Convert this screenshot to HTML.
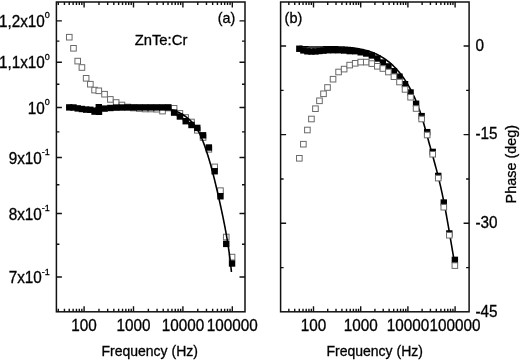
<!DOCTYPE html><html><head><meta charset="utf-8"><style>html,body{margin:0;padding:0;background:#fff;}svg{display:block;}</style></head><body><svg width="520" height="360" viewBox="0 0 520 360" font-family="'Liberation Sans', sans-serif">
<rect width="520" height="360" fill="#fff"/>
<g fill="#fff" stroke="#6a6a6a" stroke-width="1.0"><rect x="66.48" y="34.40" width="5.60" height="5.60"/><rect x="70.69" y="45.50" width="5.60" height="5.60"/><rect x="74.91" y="58.30" width="5.60" height="5.60"/><rect x="79.12" y="64.70" width="5.60" height="5.60"/><rect x="83.34" y="75.50" width="5.60" height="5.60"/><rect x="87.55" y="81.40" width="5.60" height="5.60"/><rect x="91.76" y="87.30" width="5.60" height="5.60"/><rect x="95.98" y="88.00" width="5.60" height="5.60"/><rect x="101.77" y="91.40" width="5.60" height="5.60"/><rect x="107.56" y="96.60" width="5.60" height="5.60"/><rect x="113.36" y="99.70" width="5.60" height="5.60"/><rect x="119.15" y="102.20" width="5.60" height="5.60"/><rect x="124.94" y="104.20" width="5.60" height="5.60"/><rect x="130.74" y="105.20" width="5.60" height="5.60"/><rect x="136.53" y="105.70" width="5.60" height="5.60"/><rect x="142.33" y="106.20" width="5.60" height="5.60"/><rect x="148.12" y="106.20" width="5.60" height="5.60"/><rect x="153.92" y="106.40" width="5.60" height="5.60"/><rect x="159.71" y="108.30" width="5.60" height="5.60"/><rect x="165.51" y="105.20" width="5.60" height="5.60"/><rect x="171.30" y="105.50" width="5.60" height="5.60"/><rect x="177.10" y="110.60" width="5.60" height="5.60"/><rect x="182.89" y="114.70" width="5.60" height="5.60"/><rect x="188.69" y="119.20" width="5.60" height="5.60"/><rect x="194.48" y="127.50" width="5.60" height="5.60"/><rect x="200.27" y="134.70" width="5.60" height="5.60"/><rect x="206.07" y="146.50" width="5.60" height="5.60"/><rect x="211.86" y="164.10" width="5.60" height="5.60"/><rect x="217.66" y="187.85" width="5.60" height="5.60"/><rect x="223.45" y="234.20" width="5.60" height="5.60"/><rect x="229.25" y="254.30" width="5.60" height="5.60"/></g>
<g fill="#000"><rect x="66.08" y="104.20" width="6.4" height="6.4"/><rect x="70.29" y="104.30" width="6.4" height="6.4"/><rect x="74.51" y="105.20" width="6.4" height="6.4"/><rect x="78.72" y="105.80" width="6.4" height="6.4"/><rect x="82.94" y="106.40" width="6.4" height="6.4"/><rect x="87.15" y="106.60" width="6.4" height="6.4"/><rect x="91.36" y="108.40" width="6.4" height="6.4"/><rect x="95.58" y="104.00" width="6.4" height="6.4"/><rect x="101.37" y="105.40" width="6.4" height="6.4"/><rect x="107.16" y="104.80" width="6.4" height="6.4"/><rect x="112.96" y="104.40" width="6.4" height="6.4"/><rect x="118.75" y="104.30" width="6.4" height="6.4"/><rect x="124.54" y="104.20" width="6.4" height="6.4"/><rect x="130.34" y="104.20" width="6.4" height="6.4"/><rect x="136.13" y="104.20" width="6.4" height="6.4"/><rect x="141.93" y="104.20" width="6.4" height="6.4"/><rect x="147.72" y="104.20" width="6.4" height="6.4"/><rect x="153.52" y="104.20" width="6.4" height="6.4"/><rect x="159.31" y="104.20" width="6.4" height="6.4"/><rect x="165.11" y="104.20" width="6.4" height="6.4"/><rect x="170.90" y="109.40" width="6.4" height="6.4"/><rect x="176.70" y="113.30" width="6.4" height="6.4"/><rect x="182.49" y="118.00" width="6.4" height="6.4"/><rect x="188.29" y="121.80" width="6.4" height="6.4"/><rect x="194.08" y="124.70" width="6.4" height="6.4"/><rect x="199.87" y="132.10" width="6.4" height="6.4"/><rect x="205.67" y="144.30" width="6.4" height="6.4"/><rect x="211.46" y="168.05" width="6.4" height="6.4"/><rect x="217.26" y="193.05" width="6.4" height="6.4"/><rect x="223.05" y="240.70" width="6.4" height="6.4"/><rect x="228.85" y="260.30" width="6.4" height="6.4"/><rect x="95.80" y="108.60" width="6.4" height="6.4"/></g>
<polyline fill="none" stroke="#000" stroke-width="1.6" points="66.04,107.25 66.76,107.32 67.48,107.39 68.19,107.45 68.91,107.51 69.63,107.57 70.35,107.62 71.06,107.68 71.78,107.72 72.49,107.77 73.21,107.82 73.93,107.86 74.64,107.90 75.36,107.94 76.07,107.97 76.79,108.00 77.50,108.03 78.22,108.06 78.93,108.09 79.65,108.11 80.36,108.13 81.07,108.15 81.79,108.17 82.50,108.18 83.22,108.20 83.93,108.21 84.64,108.22 85.36,108.22 86.07,108.23 86.79,108.23 87.50,108.24 88.21,108.24 88.93,108.24 89.64,108.23 90.35,108.23 91.07,108.22 91.78,108.22 92.49,108.21 93.21,108.20 93.92,108.19 94.63,108.18 95.35,108.16 96.06,108.15 96.77,108.13 97.49,108.12 98.20,108.10 98.91,108.08 99.63,108.06 100.34,108.04 101.06,108.02 101.77,108.00 102.48,107.97 103.20,107.95 103.91,107.92 104.63,107.90 105.34,107.87 106.05,107.85 106.77,107.82 107.48,107.79 108.20,107.77 108.91,107.74 109.63,107.71 110.34,107.68 111.06,107.65 111.78,107.62 112.49,107.59 113.21,107.56 113.92,107.54 114.64,107.51 115.36,107.48 116.07,107.45 116.79,107.42 117.51,107.39 118.22,107.36 118.94,107.33 119.66,107.30 120.38,107.27 121.10,107.25 121.82,107.22 122.53,107.19 123.25,107.17 123.97,107.14 124.69,107.11 125.41,107.09 126.13,107.07 126.85,107.04 127.57,107.02 128.30,107.00 129.02,106.98 129.74,106.96 130.46,106.94 131.18,106.92 131.91,106.90 132.63,106.89 133.35,106.87 134.08,106.86 134.80,106.85 135.53,106.84 136.25,106.83 136.98,106.82 137.70,106.81 138.43,106.80 139.16,106.80 139.88,106.80 140.61,106.79 141.34,106.79 142.07,106.80 142.80,106.80 143.53,106.81 144.26,106.81 144.99,106.82 145.72,106.83 146.45,106.84 147.18,106.86 147.91,106.88 148.65,106.89 149.38,106.91 150.11,106.94 150.85,106.96 151.58,106.99 152.32,107.02 153.05,107.05 153.79,107.09 154.52,107.13 155.25,107.17 155.99,107.22 156.72,107.27 157.45,107.32 158.18,107.38 158.91,107.45 159.64,107.52 160.37,107.59 161.09,107.67 161.82,107.76 162.54,107.85 163.26,107.95 163.97,108.06 164.69,108.17 165.40,108.29 166.11,108.42 166.82,108.55 167.52,108.70 168.22,108.85 168.91,109.01 169.61,109.17 170.30,109.35 170.98,109.54 171.66,109.73 172.34,109.93 173.01,110.15 173.68,110.37 174.34,110.61 175.00,110.85 175.66,111.10 176.31,111.36 176.95,111.63 177.59,111.92 178.23,112.21 178.85,112.51 179.48,112.81 180.10,113.13 180.71,113.46 181.32,113.80 181.92,114.14 182.51,114.50 183.10,114.86 183.68,115.23 184.26,115.62 184.83,116.01 185.39,116.41 185.95,116.81 186.50,117.23 187.05,117.66 187.58,118.09 188.11,118.53 188.64,118.98 189.15,119.44 189.66,119.91 190.16,120.39 190.65,120.87 191.14,121.37 191.62,121.87 192.09,122.38 192.55,122.90 193.01,123.42 193.45,123.96 193.89,124.50 194.32,125.05 194.74,125.61 195.15,126.18 195.56,126.75 195.95,127.33 196.34,127.92 196.72,128.51 197.10,129.12 197.46,129.72 197.82,130.34 198.18,130.96 198.52,131.58 198.86,132.21 199.20,132.85 199.52,133.49 199.85,134.14 200.16,134.79 200.47,135.44 200.78,136.10 201.08,136.76 201.37,137.43 201.66,138.10 201.95,138.77 202.23,139.45 202.50,140.13 202.78,140.81 203.04,141.49 203.31,142.18 203.57,142.87 203.83,143.56 204.08,144.25 204.33,144.94 204.58,145.63 204.83,146.32 205.07,147.02 205.31,147.71 205.55,148.40 205.79,149.10 206.02,149.79 206.26,150.49 206.49,151.18 206.72,151.87 206.94,152.57 207.17,153.26 207.39,153.96 207.61,154.65 207.83,155.35 208.05,156.04 208.26,156.74 208.48,157.44 208.69,158.13 208.90,158.83 209.11,159.52 209.31,160.22 209.52,160.91 209.72,161.61 209.92,162.31 210.12,163.00 210.32,163.70 210.52,164.40 210.71,165.09 210.91,165.79 211.10,166.48 211.29,167.18 211.48,167.88 211.67,168.58 211.86,169.27 212.04,169.97 212.23,170.67 212.41,171.36 212.59,172.06 212.78,172.76 212.96,173.45 213.13,174.15 213.31,174.85 213.49,175.55 213.67,176.24 213.84,176.94 214.02,177.64 214.19,178.34 214.36,179.03 214.53,179.73 214.70,180.43 214.87,181.13 215.04,181.82 215.21,182.52 215.38,183.22 215.54,183.92 215.71,184.61 215.88,185.31 216.04,186.01 216.21,186.71 216.37,187.40 216.53,188.10 216.70,188.80 216.86,189.50 217.02,190.19 217.18,190.89 217.35,191.59 217.51,192.29 217.67,192.98 217.83,193.68 217.99,194.38 218.15,195.08 218.31,195.77 218.47,196.47 218.63,197.17 218.79,197.86 218.94,198.56 219.10,199.26 219.26,199.96 219.42,200.65 219.57,201.35 219.73,202.05 219.88,202.75 220.04,203.44 220.19,204.14 220.35,204.84 220.50,205.54 220.65,206.23 220.81,206.93 220.96,207.63 221.11,208.33 221.26,209.03 221.41,209.72 221.56,210.42 221.71,211.12 221.86,211.82 222.01,212.52 222.15,213.22 222.30,213.92 222.45,214.61 222.59,215.31 222.74,216.01 222.88,216.71 223.02,217.41 223.17,218.11 223.31,218.81 223.45,219.51 223.59,220.21 223.73,220.91 223.87,221.61 224.01,222.31 224.15,223.01 224.29,223.71 224.42,224.41 224.56,225.12 224.70,225.82 224.83,226.52 224.96,227.22 225.10,227.92 225.23,228.62 225.36,229.33 225.49,230.03 225.62,230.73 225.75,231.44 225.88,232.14 226.00,232.84 226.13,233.55 226.26,234.25 226.38,234.96 226.50,235.66 226.63,236.37 226.75,237.07 226.87,237.78 226.99,238.48 227.11,239.19 227.23,239.89 227.34,240.60 227.46,241.31 227.58,242.01 227.69,242.72 227.80,243.43 227.92,244.14 228.03,244.85 228.14,245.56 228.25,246.26 228.35,246.97 228.46,247.68 228.57,248.39 228.67,249.10 228.78,249.82 228.88,250.53 228.98,251.24 229.08,251.95 229.18,252.66 229.28,253.38 229.38,254.09 229.47,254.80 229.57,255.52 229.66,256.23 229.76,256.95 229.85,257.66 229.94,258.38 230.03,259.09 230.12,259.81 230.20,260.52 230.29,261.24 230.37,261.96 230.46,262.68 230.54,263.40 230.62,264.12 230.70,264.83 230.78,265.55 230.85,266.27 230.93,267.00 231.00,267.72 231.08,268.44 231.15,269.16 231.22,269.88 231.29,270.61 231.36,271.33 231.42,272.05"/>
<g fill="#000"><rect x="296.14" y="45.55" width="6.4" height="6.4"/><rect x="300.17" y="47.20" width="6.4" height="6.4"/><rect x="304.19" y="48.10" width="6.4" height="6.4"/><rect x="308.22" y="48.30" width="6.4" height="6.4"/><rect x="312.24" y="48.20" width="6.4" height="6.4"/><rect x="316.27" y="47.80" width="6.4" height="6.4"/><rect x="320.30" y="47.40" width="6.4" height="6.4"/><rect x="324.32" y="47.00" width="6.4" height="6.4"/><rect x="329.85" y="47.00" width="6.4" height="6.4"/><rect x="335.39" y="47.00" width="6.4" height="6.4"/><rect x="340.93" y="47.30" width="6.4" height="6.4"/><rect x="346.46" y="47.90" width="6.4" height="6.4"/><rect x="352.00" y="48.00" width="6.4" height="6.4"/><rect x="357.54" y="49.10" width="6.4" height="6.4"/><rect x="363.07" y="50.30" width="6.4" height="6.4"/><rect x="368.61" y="52.30" width="6.4" height="6.4"/><rect x="374.15" y="55.30" width="6.4" height="6.4"/><rect x="379.68" y="59.30" width="6.4" height="6.4"/><rect x="385.22" y="63.20" width="6.4" height="6.4"/><rect x="390.76" y="68.00" width="6.4" height="6.4"/><rect x="396.29" y="73.50" width="6.4" height="6.4"/><rect x="401.83" y="81.00" width="6.4" height="6.4"/><rect x="407.37" y="89.30" width="6.4" height="6.4"/><rect x="412.90" y="100.55" width="6.4" height="6.4"/><rect x="418.44" y="112.90" width="6.4" height="6.4"/><rect x="423.98" y="128.95" width="6.4" height="6.4"/><rect x="429.51" y="148.70" width="6.4" height="6.4"/><rect x="435.05" y="172.70" width="6.4" height="6.4"/><rect x="440.59" y="199.35" width="6.4" height="6.4"/><rect x="446.12" y="230.25" width="6.4" height="6.4"/><rect x="451.66" y="256.65" width="6.4" height="6.4"/></g>
<polyline fill="none" stroke="#000" stroke-width="1.6" points="299.14,46.43 299.88,46.49 300.62,46.55 301.37,46.60 302.11,46.65 302.86,46.69 303.61,46.73 304.36,46.77 305.11,46.81 305.86,46.84 306.61,46.86 307.36,46.89 308.12,46.91 308.87,46.93 309.63,46.94 310.38,46.96 311.14,46.97 311.90,46.97 312.66,46.98 313.42,46.98 314.18,46.99 314.95,46.99 315.71,46.99 316.47,46.98 317.24,46.98 318.00,46.97 318.77,46.97 319.54,46.96 320.30,46.95 321.07,46.95 321.84,46.94 322.61,46.93 323.38,46.92 324.15,46.91 324.92,46.90 325.70,46.89 326.47,46.88 327.24,46.88 328.02,46.87 328.79,46.86 329.57,46.86 330.34,46.86 331.12,46.85 331.89,46.85 332.67,46.85 333.45,46.86 334.22,46.86 335.00,46.87 335.78,46.88 336.56,46.89 337.34,46.90 338.12,46.92 338.89,46.93 339.67,46.96 340.45,46.98 341.23,47.01 342.01,47.04 342.79,47.07 343.57,47.11 344.35,47.15 345.13,47.20 345.92,47.25 346.70,47.31 347.48,47.36 348.26,47.43 349.04,47.49 349.82,47.57 350.60,47.64 351.38,47.73 352.16,47.81 352.94,47.91 353.72,48.01 354.50,48.11 355.28,48.22 356.06,48.34 356.83,48.46 357.61,48.58 358.38,48.72 359.16,48.86 359.93,49.00 360.70,49.16 361.47,49.32 362.23,49.48 363.00,49.65 363.76,49.83 364.52,50.02 365.27,50.21 366.02,50.41 366.77,50.62 367.52,50.83 368.26,51.06 369.00,51.29 369.74,51.52 370.47,51.77 371.19,52.02 371.92,52.28 372.63,52.55 373.35,52.83 374.06,53.12 374.76,53.41 375.46,53.71 376.15,54.03 376.84,54.35 377.52,54.67 378.20,55.01 378.87,55.36 379.54,55.71 380.20,56.07 380.85,56.45 381.50,56.82 382.14,57.21 382.78,57.61 383.42,58.01 384.04,58.42 384.67,58.84 385.28,59.26 385.90,59.70 386.50,60.14 387.11,60.58 387.70,61.04 388.29,61.50 388.88,61.97 389.46,62.45 390.04,62.93 390.61,63.42 391.17,63.91 391.73,64.42 392.29,64.92 392.84,65.44 393.38,65.96 393.93,66.49 394.46,67.02 394.99,67.56 395.52,68.11 396.04,68.66 396.55,69.21 397.06,69.78 397.57,70.34 398.07,70.92 398.57,71.49 399.06,72.08 399.55,72.67 400.03,73.26 400.50,73.86 400.98,74.46 401.44,75.07 401.91,75.68 402.37,76.30 402.82,76.92 403.27,77.55 403.71,78.18 404.15,78.81 404.59,79.45 405.02,80.09 405.44,80.74 405.87,81.39 406.28,82.04 406.70,82.70 407.10,83.36 407.51,84.02 407.91,84.69 408.30,85.36 408.69,86.04 409.08,86.71 409.46,87.39 409.84,88.07 410.21,88.76 410.58,89.45 410.94,90.14 411.31,90.83 411.66,91.53 412.01,92.22 412.36,92.92 412.70,93.62 413.04,94.33 413.38,95.03 413.71,95.74 414.04,96.45 414.36,97.16 414.68,97.87 414.99,98.59 415.30,99.30 415.61,100.02 415.91,100.73 416.21,101.45 416.51,102.17 416.80,102.89 417.08,103.61 417.37,104.33 417.65,105.05 417.92,105.78 418.19,106.50 418.46,107.22 418.73,107.95 418.99,108.67 419.25,109.40 419.50,110.13 419.76,110.85 420.01,111.58 420.25,112.31 420.50,113.04 420.74,113.76 420.97,114.49 421.21,115.22 421.44,115.95 421.67,116.68 421.90,117.42 422.13,118.15 422.35,118.88 422.58,119.61 422.80,120.34 423.02,121.08 423.23,121.81 423.45,122.55 423.66,123.28 423.87,124.01 424.09,124.75 424.29,125.48 424.50,126.22 424.71,126.96 424.92,127.69 425.12,128.43 425.33,129.16 425.53,129.90 425.74,130.64 425.94,131.38 426.14,132.11 426.34,132.85 426.55,133.59 426.75,134.33 426.95,135.07 427.15,135.80 427.35,136.54 427.55,137.28 427.76,138.02 427.96,138.76 428.16,139.50 428.37,140.24 428.57,140.98 428.77,141.71 428.98,142.45 429.18,143.19 429.39,143.93 429.59,144.67 429.80,145.41 430.01,146.15 430.21,146.89 430.42,147.63 430.63,148.37 430.83,149.11 431.04,149.85 431.24,150.59 431.45,151.33 431.66,152.07 431.86,152.81 432.07,153.56 432.28,154.30 432.48,155.04 432.69,155.78 432.89,156.52 433.10,157.26 433.30,158.00 433.51,158.75 433.71,159.49 433.91,160.23 434.12,160.97 434.32,161.72 434.52,162.46 434.73,163.20 434.93,163.95 435.13,164.69 435.33,165.43 435.53,166.18 435.73,166.92 435.92,167.67 436.12,168.41 436.32,169.16 436.51,169.90 436.71,170.65 436.90,171.39 437.10,172.14 437.29,172.88 437.48,173.63 437.67,174.37 437.86,175.12 438.05,175.87 438.23,176.62 438.42,177.36 438.60,178.11 438.79,178.86 438.97,179.61 439.15,180.35 439.33,181.10 439.51,181.85 439.69,182.60 439.86,183.35 440.04,184.10 440.21,184.85 440.39,185.60 440.56,186.35 440.73,187.10 440.90,187.85 441.07,188.60 441.23,189.35 441.40,190.10 441.56,190.86 441.73,191.61 441.89,192.36 442.05,193.11 442.21,193.87 442.37,194.62 442.53,195.37 442.69,196.12 442.84,196.88 443.00,197.63 443.15,198.38 443.31,199.14 443.46,199.89 443.61,200.65 443.76,201.40 443.91,202.16 444.06,202.91 444.21,203.67 444.36,204.42 444.51,205.18 444.65,205.93 444.80,206.69 444.94,207.44 445.09,208.20 445.23,208.95 445.38,209.71 445.52,210.47 445.66,211.22 445.80,211.98 445.94,212.74 446.08,213.49 446.22,214.25 446.36,215.01 446.49,215.76 446.63,216.52 446.77,217.28 446.90,218.04 447.04,218.79 447.17,219.55 447.31,220.31 447.44,221.07 447.57,221.82 447.71,222.58 447.84,223.34 447.97,224.10 448.10,224.86 448.24,225.61 448.37,226.37 448.50,227.13 448.63,227.89 448.76,228.65 448.89,229.40 449.02,230.16 449.15,230.92 449.27,231.68 449.40,232.44 449.53,233.20 449.66,233.96 449.79,234.71 449.92,235.47 450.04,236.23 450.17,236.99 450.30,237.75 450.42,238.51 450.55,239.27 450.68,240.03 450.81,240.78 450.93,241.54 451.06,242.30 451.19,243.06 451.31,243.82 451.44,244.58 451.57,245.34 451.69,246.09 451.82,246.85 451.95,247.61 452.07,248.37 452.20,249.13 452.33,249.89 452.45,250.65 452.58,251.40 452.71,252.16 452.84,252.92 452.96,253.68 453.09,254.44 453.22,255.19 453.35,255.95 453.48,256.71 453.61,257.47 453.74,258.23 453.86,258.98 453.99,259.74 454.12,260.50 454.25,261.26 454.39,262.01"/>
<g fill="#fff" stroke="#6a6a6a" stroke-width="1.0"><rect x="296.54" y="155.50" width="5.60" height="5.60"/><rect x="300.57" y="141.40" width="5.60" height="5.60"/><rect x="304.59" y="127.20" width="5.60" height="5.60"/><rect x="308.62" y="116.20" width="5.60" height="5.60"/><rect x="312.64" y="105.90" width="5.60" height="5.60"/><rect x="316.67" y="98.00" width="5.60" height="5.60"/><rect x="320.70" y="91.00" width="5.60" height="5.60"/><rect x="324.72" y="84.70" width="5.60" height="5.60"/><rect x="330.25" y="76.40" width="5.60" height="5.60"/><rect x="335.79" y="69.20" width="5.60" height="5.60"/><rect x="341.33" y="66.30" width="5.60" height="5.60"/><rect x="346.86" y="62.30" width="5.60" height="5.60"/><rect x="352.40" y="60.50" width="5.60" height="5.60"/><rect x="357.94" y="59.30" width="5.60" height="5.60"/><rect x="363.47" y="59.30" width="5.60" height="5.60"/><rect x="369.01" y="60.80" width="5.60" height="5.60"/><rect x="374.55" y="63.50" width="5.60" height="5.60"/><rect x="380.08" y="65.70" width="5.60" height="5.60"/><rect x="385.62" y="69.20" width="5.60" height="5.60"/><rect x="391.16" y="73.90" width="5.60" height="5.60"/><rect x="396.69" y="79.20" width="5.60" height="5.60"/><rect x="402.23" y="86.60" width="5.60" height="5.60"/><rect x="407.77" y="94.40" width="5.60" height="5.60"/><rect x="413.30" y="105.70" width="5.60" height="5.60"/><rect x="418.84" y="116.20" width="5.60" height="5.60"/><rect x="424.38" y="132.20" width="5.60" height="5.60"/><rect x="429.91" y="151.45" width="5.60" height="5.60"/><rect x="435.45" y="175.30" width="5.60" height="5.60"/><rect x="440.99" y="204.40" width="5.60" height="5.60"/><rect x="446.52" y="232.40" width="5.60" height="5.60"/><rect x="452.06" y="262.80" width="5.60" height="5.60"/></g>
<g fill="none" stroke="#111" stroke-width="1.5"><rect x="56.4" y="2.0" width="188.60" height="309.80"/><rect x="280.6" y="2.0" width="188.50" height="309.80"/></g>
<path fill="none" stroke="#111" stroke-width="1.4" d="M58.27 311.80V308.80M58.27 2.00V5.00M64.44 311.80V308.80M64.44 2.00V5.00M69.23 311.80V308.80M69.23 2.00V5.00M73.14 311.80V308.80M73.14 2.00V5.00M76.45 311.80V308.80M76.45 2.00V5.00M79.31 311.80V308.80M79.31 2.00V5.00M81.84 311.80V308.80M81.84 2.00V5.00M84.10 311.80V306.30M84.10 2.00V7.50M98.97 311.80V308.80M98.97 2.00V5.00M107.67 311.80V308.80M107.67 2.00V5.00M113.84 311.80V308.80M113.84 2.00V5.00M118.63 311.80V308.80M118.63 2.00V5.00M122.54 311.80V308.80M122.54 2.00V5.00M125.85 311.80V308.80M125.85 2.00V5.00M128.71 311.80V308.80M128.71 2.00V5.00M131.24 311.80V308.80M131.24 2.00V5.00M133.50 311.80V306.30M133.50 2.00V7.50M148.37 311.80V308.80M148.37 2.00V5.00M157.07 311.80V308.80M157.07 2.00V5.00M163.24 311.80V308.80M163.24 2.00V5.00M168.03 311.80V308.80M168.03 2.00V5.00M171.94 311.80V308.80M171.94 2.00V5.00M175.25 311.80V308.80M175.25 2.00V5.00M178.11 311.80V308.80M178.11 2.00V5.00M180.64 311.80V308.80M180.64 2.00V5.00M182.90 311.80V306.30M182.90 2.00V7.50M197.77 311.80V308.80M197.77 2.00V5.00M206.47 311.80V308.80M206.47 2.00V5.00M212.64 311.80V308.80M212.64 2.00V5.00M217.43 311.80V308.80M217.43 2.00V5.00M221.34 311.80V308.80M221.34 2.00V5.00M224.65 311.80V308.80M224.65 2.00V5.00M227.51 311.80V308.80M227.51 2.00V5.00M230.04 311.80V308.80M230.04 2.00V5.00M232.30 311.80V306.30M232.30 2.00V7.50M288.82 311.80V308.80M288.82 2.00V5.00M294.72 311.80V308.80M294.72 2.00V5.00M299.29 311.80V308.80M299.29 2.00V5.00M303.03 311.80V308.80M303.03 2.00V5.00M306.19 311.80V308.80M306.19 2.00V5.00M308.93 311.80V308.80M308.93 2.00V5.00M311.34 311.80V308.80M311.34 2.00V5.00M313.50 311.80V306.30M313.50 2.00V7.50M327.71 311.80V308.80M327.71 2.00V5.00M336.02 311.80V308.80M336.02 2.00V5.00M341.92 311.80V308.80M341.92 2.00V5.00M346.49 311.80V308.80M346.49 2.00V5.00M350.23 311.80V308.80M350.23 2.00V5.00M353.39 311.80V308.80M353.39 2.00V5.00M356.13 311.80V308.80M356.13 2.00V5.00M358.54 311.80V308.80M358.54 2.00V5.00M360.70 311.80V306.30M360.70 2.00V7.50M374.91 311.80V308.80M374.91 2.00V5.00M383.22 311.80V308.80M383.22 2.00V5.00M389.12 311.80V308.80M389.12 2.00V5.00M393.69 311.80V308.80M393.69 2.00V5.00M397.43 311.80V308.80M397.43 2.00V5.00M400.59 311.80V308.80M400.59 2.00V5.00M403.33 311.80V308.80M403.33 2.00V5.00M405.74 311.80V308.80M405.74 2.00V5.00M407.90 311.80V306.30M407.90 2.00V7.50M422.11 311.80V308.80M422.11 2.00V5.00M430.42 311.80V308.80M430.42 2.00V5.00M436.32 311.80V308.80M436.32 2.00V5.00M440.89 311.80V308.80M440.89 2.00V5.00M444.63 311.80V308.80M444.63 2.00V5.00M447.79 311.80V308.80M447.79 2.00V5.00M450.53 311.80V308.80M450.53 2.00V5.00M452.94 311.80V308.80M452.94 2.00V5.00M455.10 311.80V306.30M455.10 2.00V7.50M56.40 276.96H61.90M245.00 276.96H239.50M56.40 244.18H59.40M245.00 244.18H242.00M56.40 213.52H61.90M245.00 213.52H239.50M56.40 184.72H59.40M245.00 184.72H242.00M56.40 157.56H61.90M245.00 157.56H239.50M56.40 131.87H59.40M245.00 131.87H242.00M56.40 107.50H61.90M245.00 107.50H239.50M56.40 84.32H59.40M245.00 84.32H242.00M56.40 62.22H61.90M245.00 62.22H239.50M56.40 41.10H59.40M245.00 41.10H242.00M56.40 20.88H61.90M245.00 20.88H239.50M280.60 46.00H286.10M469.10 46.00H463.60M280.60 90.33H283.60M469.10 90.33H466.10M280.60 134.65H286.10M469.10 134.65H463.60M280.60 178.97H283.60M469.10 178.97H466.10M280.60 223.30H286.10M469.10 223.30H463.60M280.60 267.62H283.60M469.10 267.62H466.10"/>
<g fill="#000" stroke="#000" stroke-width="0.3" font-size="15.3">
<text transform="translate(84.10 330.5) scale(1 1.04)" text-anchor="middle">100</text>
<text transform="translate(313.50 330.5) scale(1 1.04)" text-anchor="middle">100</text>
<text transform="translate(133.50 330.5) scale(1 1.04)" text-anchor="middle">1000</text>
<text transform="translate(360.70 330.5) scale(1 1.04)" text-anchor="middle">1000</text>
<text transform="translate(182.90 330.5) scale(1 1.04)" text-anchor="middle">10000</text>
<text transform="translate(407.90 330.5) scale(1 1.04)" text-anchor="middle">10000</text>
<text transform="translate(232.30 330.5) scale(1 1.04)" text-anchor="middle">100000</text>
<text transform="translate(455.10 330.5) scale(1 1.04)" text-anchor="middle">100000</text>
<text transform="translate(49.8 26.88) scale(1 1.04)" text-anchor="end" font-size="15.3">1,2x10<tspan font-size="9" dy="-8.1">0</tspan></text>
<text transform="translate(49.8 68.22) scale(1 1.04)" text-anchor="end" font-size="15.3">1,1x10<tspan font-size="9" dy="-8.1">0</tspan></text>
<text transform="translate(49.8 113.50) scale(1 1.04)" text-anchor="end" font-size="15.3">10<tspan font-size="9" dy="-8.1">0</tspan></text>
<text transform="translate(49.8 163.56) scale(1 1.04)" text-anchor="end" font-size="15.3">9x10<tspan font-size="9" dy="-8.1">-1</tspan></text>
<text transform="translate(49.8 219.52) scale(1 1.04)" text-anchor="end" font-size="15.3">8x10<tspan font-size="9" dy="-8.1">-1</tspan></text>
<text transform="translate(49.8 282.96) scale(1 1.04)" text-anchor="end" font-size="15.3">7x10<tspan font-size="9" dy="-8.1">-1</tspan></text>
<text transform="translate(475.5 50.60) scale(1 1.04)">0</text>
<text transform="translate(475.5 139.25) scale(1 1.04)">-15</text>
<text transform="translate(475.5 227.90) scale(1 1.04)">-30</text>
<text transform="translate(475.5 316.55) scale(1 1.04)">-45</text>
</g>
<g fill="#000" stroke="#000" stroke-width="0.3" font-size="14">
<text x="149.7" y="356" text-anchor="middle">Frequency (Hz)</text>
<text x="374.7" y="356" text-anchor="middle">Frequency (Hz)</text>
<text x="515.7" y="164.2" text-anchor="middle" font-size="14.4" transform="rotate(-90 515.7 164.2)">Phase (deg)</text>
<text x="134.7" y="45.0" font-size="14.8">ZnTe:Cr</text>
<text x="217.7" y="22.8" font-size="14.3">(a)</text>
<text x="284.6" y="22.9" font-size="14.5">(b)</text>
</g>
</svg></body></html>
